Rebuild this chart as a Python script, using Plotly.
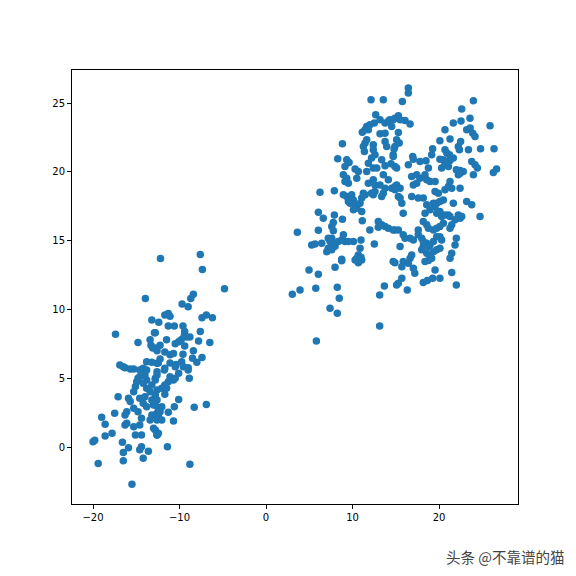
import plotly.graph_objects as go

# Cluster A (lower left)
ax = [-12.2,-7.6,-7.36,-4.8,-8.4,-8.7,-9.7,-9.0,-11.7,-11.3,-11.1,-12.4,-7.4,-6.9,-6.2,
      -13.95,-13.2,-17.4,-12.9,-14.8,-13.4,-13.3,-13.1,-12.6,-16.9,-16.3,-15.3,-14.2,-13.8,-13.2,-12.6,
      -11.3,-10.6,-9.6,-9.4,-9.45,-9.2,-8.8,-7.6,-7.8,-6.5,-12.8,-11.5,-10.5,-10.1,-9.8,-9.4,-8.4,
      -12.8,-12.25,-11.7,-11.1,-10.7,-9.6,-8.5,-7.4,-8.0,-12.25,-11.1,-10.4,-9.75,-9.0,-11.7,-12.45,
      -17.1,-19.0,-18.6,-17.5,-20.0,-19.8,-18.6,-17.8,-19.4,-16.6,-15.9,-16.5,-16.5,-15.5,
      -15.1,-14.4,-14.4,-14.6,-13.6,-14.2,
      -16.1,-16.3,-16.1,-16.3,-15.3,-14.6,-14.4,-14.8,-15.3,-15.7,-15.9,-15.3,-15.1,-14.95,-14.8,-14.6,
      -14.0,-13.8,-14.2,-13.8,-13.4,-12.8,-13.2,-13.0,-12.45,-12.6,-13.2,-13.4,-13.0,-12.6,-14.6,-14.2,
      -13.8,-14.0,-12.8,-13.2,-12.6,-13.8,-14.6,-15.7,-16.5,
      -11.75,-10.5,-9.56,-9.0,-10.1,-11.1,-11.3,-10.7,-10.5,-11.7,-12.05,-12.6,-11.5,-11.7,-12.8,-12.6,
      -8.87,-10.1,-10.6,-11.3,-10.7,-12.05,-12.25,-12.45,-12.05,-12.6,-12.8,-12.6,-12.45,-12.6,-12.8,
      -8.3,-6.9,-11.4,-8.8]
ay = [13.7,14.0,12.9,11.5,11.1,10.8,10.4,10.2,9.6,9.7,9.5,9.07,9.4,9.6,9.4,
      10.8,9.24,8.2,8.3,7.6,7.8,7.4,7.2,7.0,5.96,5.77,5.67,5.72,6.2,6.16,6.09,
      8.8,8.8,8.8,8.4,8.1,8.0,8.0,8.4,7.7,7.6,8.3,7.8,7.5,7.66,7.8,7.35,7.0,
      7.2,7.4,6.9,6.7,6.8,6.74,6.45,6.5,6.16,6.4,6.1,6.0,6.2,5.77,5.72,6.1,
      3.66,2.16,1.65,2.45,0.39,0.5,0.8,1.0,-1.19,0.34,-0.05,-0.39,-1.0,-2.7,
      0.87,0.87,0.02,-0.2,-0.3,-0.82,
      2.57,2.33,1.72,1.6,1.48,1.6,2.09,2.57,2.81,3.3,3.54,4.02,4.39,4.75,5.0,5.11,
      5.24,4.87,4.63,4.27,4.02,3.78,3.42,3.05,2.81,2.45,2.33,1.96,1.36,0.87,3.54,3.18,
      2.93,3.66,5.0,4.5,5.48,5.6,5.6,5.67,5.84,
      5.6,5.84,5.84,5.6,5.36,5.11,4.75,4.87,5.0,4.5,4.27,4.15,4.27,3.83,4.87,5.24,
      5.0,3.46,2.93,2.52,1.89,2.93,2.57,2.2,1.96,1.96,3.05,3.42,1.0,0.87,1.24,
      2.89,3.1,0.02,-1.26]

# Cluster B (upper middle)
bx = [12.14,13.56,12.68,13.18,13.76,14.2,14.7,12.52,12.0,11.64,11.45,11.13,11.83,13.18,13.76,14.53,
      13.76,13.95,12.4,12.4,12.6,12.2,11.83,11.64,11.45,11.25,11.37,8.83,8.29,9.33,9.6,9.13,10.3,10.67,
      11.64,12.4,12.8,13.37,13.76,14.45,14.7,14.9,
      8.94,9.33,9.13,9.52,10.49,11.83,12.4,12.6,13.18,13.56,14.14,13.76,14.53,14.9,
      6.24,7.9,8.94,9.33,9.9,10.1,9.52,9.71,10.3,10.49,10.1,10.87,11.06,11.45,11.25,12.2,12.6,12.4,
      13.37,13.56,11.06,
      6.05,6.62,7.9,7.78,8.83,7.6,11.13,6.05,3.62,7.78,
      12.98,13.37,13.76,12.98,14.14,14.7,12.0,
      5.28,5.66,6.44,7.6,7.4,7.78,8.94,8.75,9.13,9.52,10.1,10.98,10.87,7.2,7.02,7.6,12.52,10.49,10.67,
      10.98,8.75,7.2,7.98,8.36,
      4.97,6.05,7.98,8.75,10.3,10.67,11.06,3.04,3.93,5.75,8.24,8.47,7.4,8.24,13.68,13.14,13.14,5.82,14.9]
by = [25.24,25.24,24.15,23.78,23.54,23.73,23.78,23.54,23.42,23.3,23.05,22.88,23.05,22.76,22.8,23.3,
      22.2,21.84,21.96,21.6,21.24,21.0,20.63,22.33,22.09,21.84,21.48,22.04,20.95,20.87,20.68,20.39,20.2,20.02,
      20.02,20.27,20.27,20.87,20.44,20.58,21.24,21.84,
      19.78,19.54,19.29,19.17,19.54,19.17,19.42,19.05,19.05,19.78,19.42,18.81,18.81,18.93,
      18.52,18.62,18.33,18.2,18.33,17.96,17.84,17.72,17.6,17.36,17.24,17.72,18.09,18.33,18.45,18.45,18.57,18.33,
      18.2,18.45,17.11,
      17.07,16.63,16.87,16.31,16.56,16.02,16.44,15.76,15.61,15.71,
      16.39,16.15,16.02,15.98,15.9,15.78,15.78,
      14.69,14.76,14.81,15.18,14.93,14.81,15.42,15.05,14.93,14.93,14.93,15.05,14.45,14.45,14.2,14.33,14.76,13.72,13.96,
      13.8,13.65,15.18,14.6,14.93,
      12.87,12.56,13.07,13.53,13.6,13.4,13.6,11.1,11.42,11.54,11.61,10.81,10.09,9.72,11.71,11.05,8.8,7.71,13.4]

# Cluster C (upper right)
cx = [16.45,16.45,15.76,23.97,22.62,14.34,14.9,15.3,15.5,16.07,16.65,15.3,15.1,15.4,14.8,14.7,14.9,15.1,
      25.9,23.58,22.54,21.65,
      20.69,20.1,21.27,22.5,23.2,23.6,23.9,24.16,22.23,22.35,23.4,24.8,26.36,19.26,19.15,20.69,20.9,21.2,
      21.65,20.1,20.5,21.27,21.08,20.3,20.69,22.0,22.43,22.8,23.78,24.16,24.43,16.96,17.03,17.8,18.5,
      16.45,18.77,26.65,26.28,
      16.84,17.42,17.8,18.38,18.58,18.96,19.54,17.42,17.03,15.1,15.5,14.9,15.3,15.5,15.7,22.23,22.43,23.97,
      21.27,21.08,20.69,21.47,22.43,19.54,19.92,16.84,17.6,18.18,19.35,19.73,20.1,20.5,21.65,23.2,23.78,
      24.74,15.86,18.58,18.38,18.96,19.54,19.73,20.1,20.3,20.69,21.08,21.27,22.23,22.43,22.62,21.85,21.47,
      21.27,20.5,20.1,19.73,19.35,18.18,18.58,18.77,14.9,15.3,15.86,16.07,16.65,17.03,17.6,17.6,18.0,18.18,
      18.58,18.96,19.35,19.73,20.1,20.3,22.0,21.85,21.47,21.27,18.77,18.18,18.0,18.58,18.96,19.35,19.73,
      20.1,19.15,18.77,16.84,16.65,15.86,14.7,18.38,15.5,
      16.45,15.7,17.03,17.2,19.54,21.47,18.18,18.65,19.26,20.1,15.3,15.7,15.1,16.33,22.0]
cy = [26.09,25.72,25.11,25.16,24.56,23.78,23.9,24.07,23.78,23.73,23.47,22.86,22.33,22.09,21.65,21.11,20.39,20.27,
      23.35,23.9,23.69,23.54,
      23.05,22.25,22.38,22.2,23.05,23.18,22.8,22.57,21.84,21.6,21.6,21.67,21.67,21.67,21.24,21.6,21.36,21.24,
      21.0,20.92,20.87,20.82,20.39,20.27,20.63,20.15,20.1,20.02,20.75,20.51,20.27,21.11,20.92,20.75,20.8,
      20.51,20.27,20.2,19.96,
      19.66,19.78,19.54,19.78,19.42,19.29,19.29,19.17,19.05,19.05,18.81,18.69,18.2,18.09,17.72,19.78,19.9,19.78,
      19.29,18.93,18.69,18.81,18.81,18.57,18.45,18.2,18.09,18.09,17.72,17.72,17.84,17.96,17.72,17.84,17.6,
      16.75,16.99,17.6,16.99,17.24,17.48,16.99,17.11,16.75,16.87,16.87,16.75,16.87,16.63,16.75,16.51,16.15,
      15.9,16.27,16.02,15.9,15.78,16.39,16.15,15.9,15.78,15.78,15.42,15.18,15.18,15.05,15.78,15.42,15.18,14.93,
      14.81,14.69,14.93,15.29,15.29,15.05,15.18,14.69,14.09,13.72,14.57,14.57,14.33,14.09,13.96,14.2,14.33,
      14.45,13.72,13.55,13.96,13.72,13.48,13.48,13.48,14.57,
      13.36,13.11,13.0,12.63,12.87,12.68,11.95,12.1,12.27,12.27,11.9,12.27,11.78,11.42,11.78]

xs = ax + bx + cx
ys = ay + by + cy

x_ticks = [-20, -10, 0, 10, 20]
y_ticks = [0, 5, 10, 15, 20, 25]
watermark = "头条 @不靠谱的猫"

fig = go.Figure(go.Scatter(
    x=xs, y=ys, mode="markers",
    marker=dict(color="#1f77b4", size=7.5, line=dict(width=0)),
    hoverinfo="skip",
))

axis_common = dict(showline=True, mirror=True, linecolor="black", linewidth=1,
                   ticks="outside", ticklen=4, tickwidth=1, tickcolor="black",
                   showgrid=False, zeroline=False,
                   tickfont=dict(family="DejaVu Sans", size=10, color="black"))

fig.update_layout(
    width=568, height=568,
    margin=dict(l=64, r=58, t=62, b=72),
    plot_bgcolor="white", paper_bgcolor="white",
    showlegend=False,
    xaxis=dict(range=[-22.43, 29.13], tickvals=x_ticks, **axis_common),
    yaxis=dict(range=[-4.14, 27.4], tickvals=y_ticks, **axis_common),
    annotations=[dict(text=watermark, xref="paper", yref="paper",
                      x=1.108, y=-0.12, xanchor="right", yanchor="middle",
                      showarrow=False,
                      font=dict(family="Noto Sans CJK SC", size=14.5, color="#444444"))],
)

fig.write_html("out.html")
